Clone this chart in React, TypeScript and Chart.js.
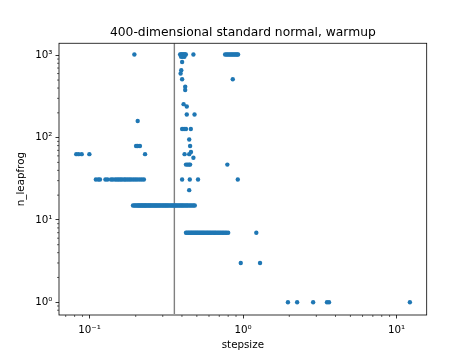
import React, { useEffect, useRef } from "react";
import { Chart, registerables } from "chart.js";

Chart.register(...registerables);

// ---- data ----
const leapfrogLevels = [1023, 959, 830, 659, 601, 511, 414, 378, 255, 239, 191, 159, 127, 95, 79, 67, 63, 57, 47, 31, 23, 15, 7, 3, 1];

const stepsize1023 = [0.196, 0.389, 0.394, 0.399, 0.404, 0.409, 0.414, 0.419, 0.424, 0.475, 0.764, 0.78, 0.795, 0.81, 0.825, 0.84, 0.855, 0.87, 0.885, 0.9, 0.915, 0.928];
const stepsize959 = [0.395, 0.405, 0.415];
const stepsize830 = [0.401];
const stepsize659 = [0.396];
const stepsize601 = [0.392];
const stepsize511 = [0.401, 0.857];
const stepsize414 = [0.42];
const stepsize378 = [0.42];
const stepsize255 = [0.41];
const stepsize239 = [0.43];
const stepsize191 = [0.43, 0.483];
const stepsize159 = [0.206];
const stepsize127 = [0.401, 0.413, 0.425, 0.457];
const stepsize95 = [0.446];
const stepsize79 = [0.201, 0.206, 0.213, 0.452];
const stepsize67 = [0.458];
const stepsize63 = [0.082, 0.085, 0.089, 0.0998, 0.23, 0.416, 0.446];
const stepsize57 = [0.475];
const stepsize47 = [0.425, 0.435, 0.445, 0.452, 0.79];
const stepsize31 = [0.11, 0.114, 0.117, 0.127, 0.131, 0.138, 0.142, 0.147, 0.151, 0.155, 0.159, 0.163, 0.168, 0.172, 0.177, 0.182, 0.187, 0.193, 0.199, 0.205, 0.212, 0.219, 0.226, 0.401, 0.45, 0.509, 0.924];
const stepsize23 = [0.446];
const stepsize15 = [0.192, 0.196, 0.199, 0.203, 0.206, 0.209, 0.212, 0.215, 0.218, 0.221, 0.224, 0.227, 0.23, 0.233, 0.236, 0.24, 0.243, 0.247, 0.25, 0.254, 0.258, 0.262, 0.266, 0.27, 0.274, 0.278, 0.283, 0.287, 0.292, 0.297, 0.302, 0.307, 0.312, 0.317, 0.322, 0.328, 0.334, 0.34, 0.346, 0.352, 0.358, 0.364, 0.37, 0.377, 0.384, 0.391, 0.398, 0.405, 0.412, 0.42, 0.428, 0.436, 0.445, 0.455, 0.465, 0.475, 0.485];
const stepsize7 = [0.425, 0.432, 0.44, 0.447, 0.455, 0.462, 0.47, 0.478, 0.486, 0.494, 0.502, 0.51, 0.519, 0.528, 0.537, 0.546, 0.555, 0.565, 0.575, 0.585, 0.595, 0.606, 0.617, 0.628, 0.64, 0.652, 0.664, 0.677, 0.69, 0.704, 0.718, 0.733, 0.748, 0.764, 0.78, 0.8, 1.22];
const stepsize3 = [0.966, 1.29];
const stepsize1 = [1.96, 2.25, 2.86, 3.52, 3.63, 12.2];

const stepsizesByLevel = [
  stepsize1023, stepsize959, stepsize830, stepsize659, stepsize601, stepsize511,
  stepsize414, stepsize378, stepsize255, stepsize239, stepsize191, stepsize159,
  stepsize127, stepsize95, stepsize79, stepsize67, stepsize63, stepsize57,
  stepsize47, stepsize31, stepsize23, stepsize15, stepsize7, stepsize3, stepsize1,
];

const warmupStepsize = 0.357;

const xTickValues = [0.1, 1, 10];
const yTickValues = [1, 10, 100, 1000];
const tickLabelText: Record<string, string> = {
  "0.1": "10\u207B\u00B9",
  "1": "10\u2070",
  "10": "10\u00B9",
  "100": "10\u00B2",
  "1000": "10\u00B3",
};

const X_MIN = 0.0633;
const X_MAX = 15.7;
const Y_MIN = 0.72;
const Y_MAX = 1400;

const FONT = "'DejaVu Sans', sans-serif";

export default function App() {
  const canvasRef = useRef<HTMLCanvasElement | null>(null);

  useEffect(() => {
    if (!canvasRef.current) return;
    const points: { x: number; y: number }[] = [];
    leapfrogLevels.forEach((n, i) => {
      stepsizesByLevel[i].forEach((s) => points.push({ x: s, y: n }));
    });

    const framePlugin = {
      id: "frameAndMinorTicks",
      afterDraw(chart: any) {
        const { ctx, chartArea } = chart;
        const xs = chart.scales.x;
        const ys = chart.scales.y;
        ctx.save();
        ctx.strokeStyle = "#000";
        ctx.lineWidth = 0.6;
        for (let e = -3; e <= 3; e++) {
          for (let m = 2; m <= 9; m++) {
            const v = m * Math.pow(10, e);
            if (v > X_MIN && v < X_MAX) {
              const px = xs.getPixelForValue(v);
              ctx.beginPath();
              ctx.moveTo(px, chartArea.bottom);
              ctx.lineTo(px, chartArea.bottom + 2);
              ctx.stroke();
            }
            if (v > Y_MIN && v < Y_MAX) {
              const py = ys.getPixelForValue(v);
              ctx.beginPath();
              ctx.moveTo(chartArea.left, py);
              ctx.lineTo(chartArea.left - 2, py);
              ctx.stroke();
            }
          }
        }
        ctx.lineWidth = 0.8;
        ctx.strokeRect(chartArea.left, chartArea.top, chartArea.right - chartArea.left, chartArea.bottom - chartArea.top);
        ctx.restore();
      },
    };

    const chart = new Chart(canvasRef.current, {
      type: "scatter",
      data: {
        datasets: [
          {
            type: "scatter",
            data: points,
            pointRadius: 2.2,
            pointBackgroundColor: "#1f77b4",
            pointBorderWidth: 0,
            pointHoverRadius: 2.2,
          } as any,
          {
            type: "line",
            data: [
              { x: warmupStepsize, y: Y_MIN },
              { x: warmupStepsize, y: Y_MAX },
            ],
            borderColor: "#808080",
            borderWidth: 1.4,
            pointRadius: 0,
            showLine: true,
            fill: false,
          } as any,
        ],
      },
      options: {
        animation: false,
        responsive: true,
        maintainAspectRatio: false,
        events: [],
        layout: { padding: { left: 0, right: 47.3, top: 0, bottom: 0 } },
        plugins: {
          legend: { display: false },
          tooltip: { enabled: false },
          title: {
            display: true,
            text: "400-dimensional standard normal, warmup",
            color: "#000",
            font: { family: FONT, size: 12.3, weight: "normal" },
            padding: { top: 25.2, bottom: 3.3 },
            fullSize: false,
          } as any,
        },
        scales: {
          x: {
            type: "logarithmic",
            position: "bottom",
            min: X_MIN,
            max: X_MAX,
            afterBuildTicks: (s: any) => {
              s.ticks = xTickValues.map((v) => ({ value: v, major: true }));
            },
            afterFit: (s: any) => {
              s.height = 40;
            },
            ticks: {
              autoSkip: false,
              maxRotation: 0,
              padding: 6,
              color: "#000",
              font: { family: FONT, size: 10.3 },
              callback: (v: any) => tickLabelText[String(v)] ?? "",
            },
            grid: {
              display: true,
              drawOnChartArea: false,
              drawTicks: true,
              tickLength: 3.5,
              color: "#000",
              lineWidth: 0.8,
            },
            border: { display: false },
            title: {
              display: true,
              text: "stepsize",
              color: "#000",
              font: { family: FONT, size: 10.3 },
              padding: { top: 0, bottom: 3.8 },
            },
          } as any,
          y: {
            type: "logarithmic",
            position: "left",
            min: Y_MIN,
            max: Y_MAX,
            afterBuildTicks: (s: any) => {
              s.ticks = yTickValues.map((v) => ({ value: v, major: true }));
            },
            afterFit: (s: any) => {
              s.width = 59;
            },
            ticks: {
              autoSkip: false,
              padding: 3,
              color: "#000",
              font: { family: FONT, size: 10.3 },
              callback: (v: any) => tickLabelText[String(v)] ?? "",
            },
            grid: {
              display: true,
              drawOnChartArea: false,
              drawTicks: true,
              tickLength: 3.5,
              color: "#000",
              lineWidth: 0.8,
            },
            border: { display: false },
            title: {
              display: true,
              text: "n_leapfrog",
              color: "#000",
              font: { family: FONT, size: 10.3 },
              padding: { top: 15, bottom: 0 },
            },
          } as any,
        },
      },
      plugins: [framePlugin],
    });

    return () => chart.destroy();
  }, []);

  return (
    <div style={{ position: "fixed", left: 0, top: 0, width: 474, height: 355, background: "#fff" }}>
      <canvas ref={canvasRef} />
    </div>
  );
}
